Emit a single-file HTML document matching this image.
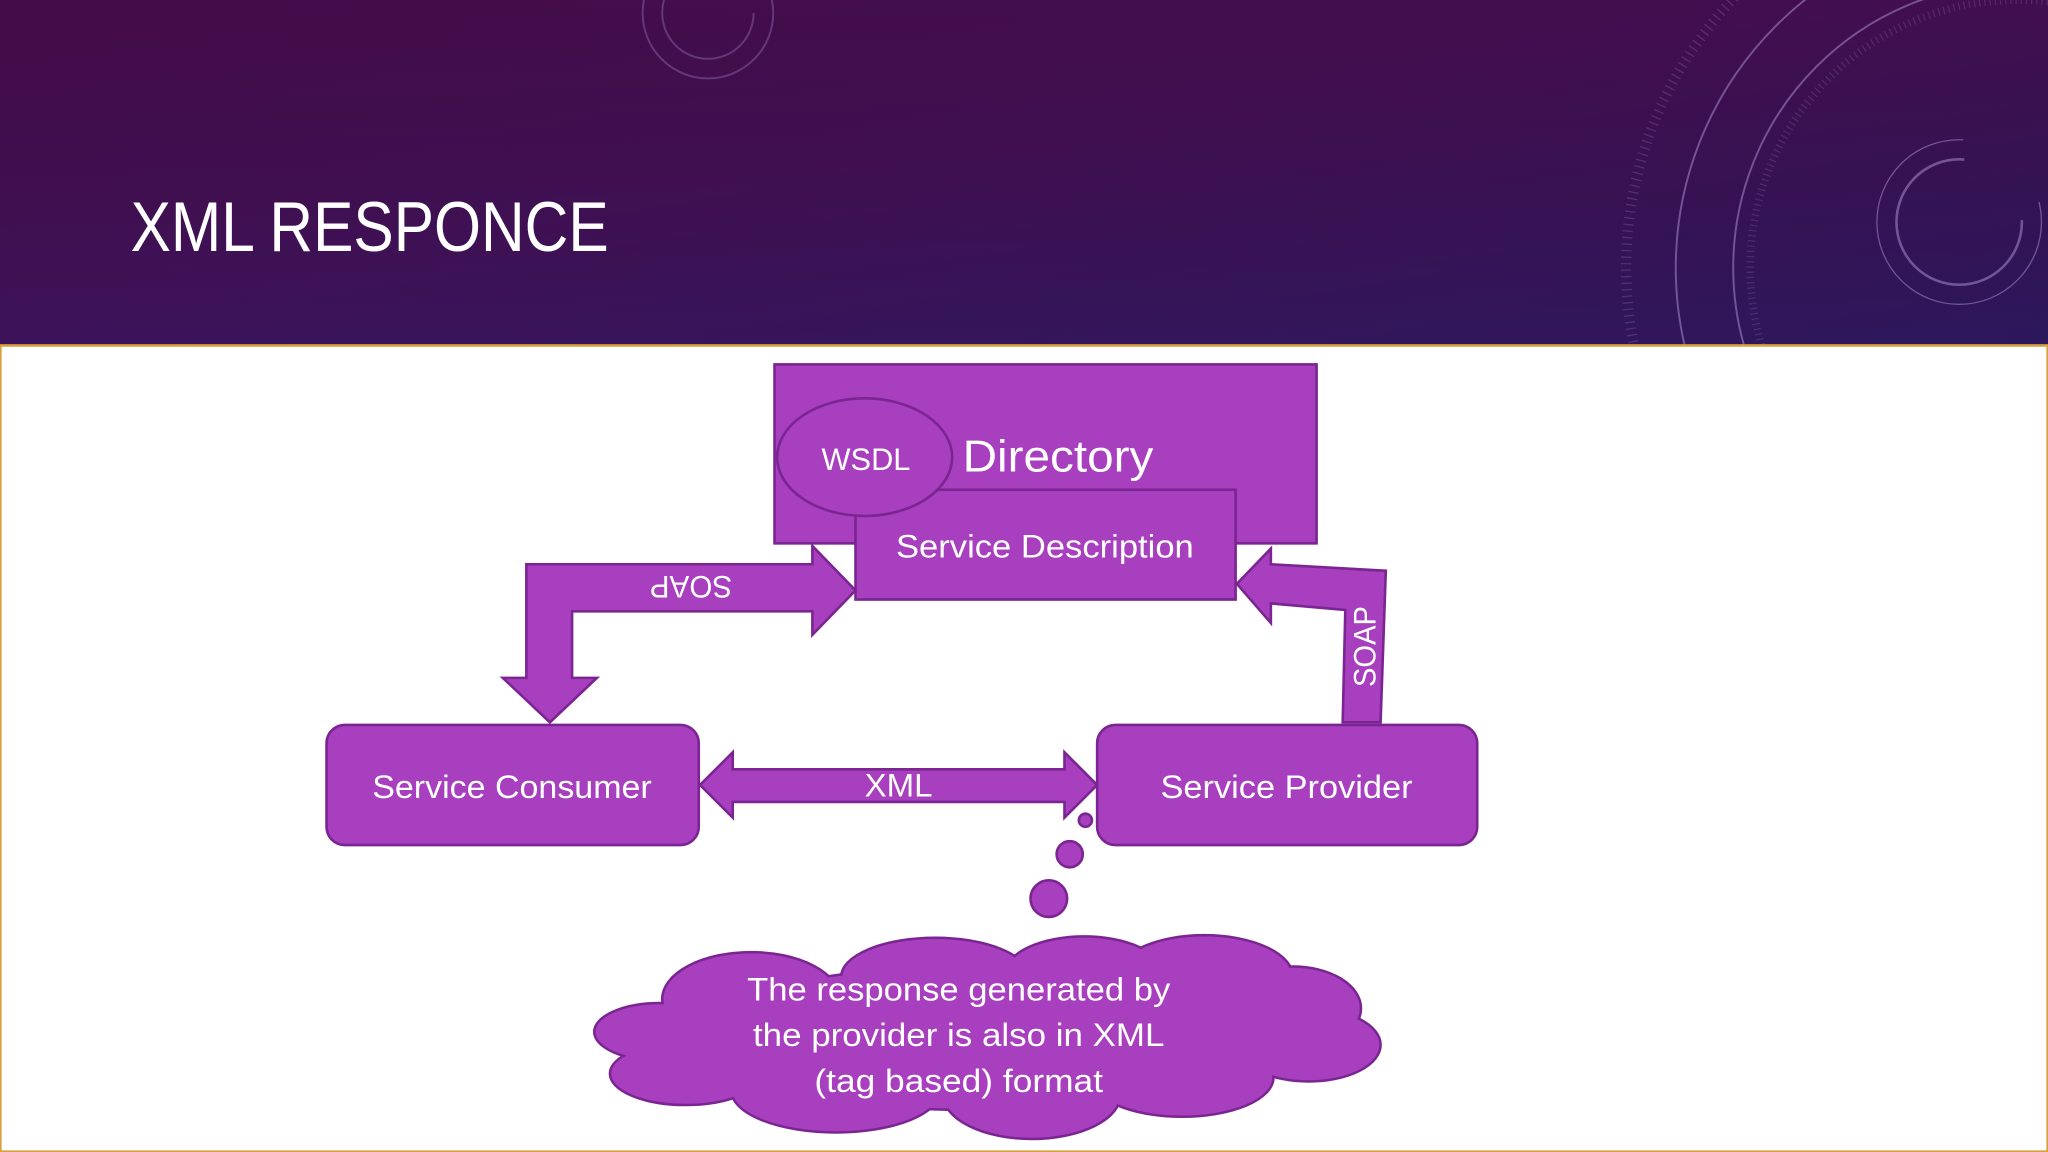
<!DOCTYPE html>
<html><head><meta charset="utf-8"><style>
html,body{margin:0;padding:0;width:2048px;height:1152px;overflow:hidden;background:#fff}
svg{display:block}
text{font-family:"Liberation Sans",sans-serif;fill:#fff}
</style></head><body>
<svg width="2048" height="1152" viewBox="0 0 1568 882" xmlns="http://www.w3.org/2000/svg">
<defs>
<linearGradient id="hg" x1="0" y1="0" x2="1" y2="1">
<stop offset="0" stop-color="#4c0d50"/><stop offset="0.45" stop-color="#4a1058"/><stop offset="1" stop-color="#33175c"/>
</linearGradient>
<linearGradient id="hg2" x1="0" y1="0" x2="0" y2="1">
<stop offset="0" stop-color="#000" stop-opacity="0.1"/><stop offset="1" stop-color="#1a1a60" stop-opacity="0.25"/>
</linearGradient>
<clipPath id="hc"><rect x="0" y="0" width="1568" height="264"/></clipPath>
</defs>
<rect x="0" y="0" width="1568" height="882" fill="#fff"/>
<rect x="0.5" y="264" width="1567" height="617.5" fill="none" stroke="#d9a040" stroke-width="1.5"/>
<rect x="0" y="0" width="1568" height="265" fill="url(#hg)"/>
<rect x="0" y="0" width="1568" height="265" fill="url(#hg2)"/>
<g fill="none" stroke="#a58ad0" stroke-opacity="0.55" clip-path="url(#hc)">
<circle cx="1545" cy="205" r="262" stroke-width="1.5"/>
<circle cx="1545" cy="205" r="218" stroke-width="1.5"/>
<circle cx="1545" cy="205" r="300" stroke-width="8" stroke-dasharray="1 4" stroke-opacity="0.25"/>
<circle cx="1545" cy="205" r="205" stroke-width="6" stroke-dasharray="1 3" stroke-opacity="0.2"/>
<circle cx="1500" cy="170" r="48" stroke-width="2" stroke-dasharray="230 70"/>
<circle cx="1500" cy="170" r="63" stroke-width="1" stroke-dasharray="300 80"/>
<circle cx="542" cy="10" r="50" stroke-width="1.5" stroke-opacity="0.35"/>
<circle cx="542" cy="10" r="35" stroke-width="1.5" stroke-opacity="0.35" stroke-dasharray="150 70"/>
</g>
<rect x="0" y="263.5" width="1568" height="2" fill="#d9a040"/>
<text x="100" y="192" font-size="54" textLength="366" lengthAdjust="spacingAndGlyphs">XML RESPONCE</text>

<g fill="#a83fbe" stroke="#7a2592" stroke-width="2">
<rect x="593" y="279" width="415" height="137"/>
<rect x="655" y="375" width="291" height="84"/>
<ellipse cx="662" cy="350" rx="67" ry="45"/>
<polygon points="403,432 622,432 622,418 655,452 622,486 622,468 438,468 438,519 457,519 421,553 385,519 403,519"/>
<polygon points="947,447 973,420 973,432 1061,437 1057,553 1028,553 1030,467 973,462 973,477"/>
<rect x="250" y="555" width="285" height="92" rx="14"/>
<rect x="840" y="555" width="291" height="92" rx="14"/>
<polygon points="536,601 561,576 561,589 815,589 815,576 840,601 815,626 815,614 561,614 561,626"/>
<circle cx="831" cy="628" r="5"/>
<circle cx="819" cy="654" r="10"/>
<circle cx="803" cy="688" r="14"/>
</g>
<g fill="#a83fbe" stroke="#7a2592" stroke-width="2">
<ellipse cx="575" cy="765" rx="68" ry="36"/>
<ellipse cx="716" cy="748" rx="72" ry="30"/>
<ellipse cx="830" cy="745" rx="60" ry="28"/>
<ellipse cx="922" cy="748" rx="68" ry="32"/>
<ellipse cx="990" cy="772" rx="52" ry="32"/>
<ellipse cx="1002" cy="800" rx="55" ry="28"/>
<ellipse cx="905" cy="825" rx="70" ry="30"/>
<ellipse cx="790" cy="838" rx="68" ry="34"/>
<ellipse cx="640" cy="835" rx="80" ry="32"/>
<ellipse cx="525" cy="822" rx="58" ry="24"/>
<ellipse cx="505" cy="790" rx="50" ry="22"/>
<ellipse cx="750" cy="795" rx="230" ry="55"/>
</g>
<g fill="#a83fbe" stroke="none">
<ellipse cx="575" cy="765" rx="67" ry="35"/>
<ellipse cx="716" cy="748" rx="71" ry="29"/>
<ellipse cx="830" cy="745" rx="59" ry="27"/>
<ellipse cx="922" cy="748" rx="67" ry="31"/>
<ellipse cx="990" cy="772" rx="51" ry="31"/>
<ellipse cx="1002" cy="800" rx="54" ry="27"/>
<ellipse cx="905" cy="825" rx="69" ry="29"/>
<ellipse cx="790" cy="838" rx="67" ry="33"/>
<ellipse cx="640" cy="835" rx="79" ry="31"/>
<ellipse cx="525" cy="822" rx="57" ry="23"/>
<ellipse cx="505" cy="790" rx="49" ry="21"/>
<ellipse cx="750" cy="795" rx="229" ry="54"/>
</g>

<text x="663" y="360" font-size="24" text-anchor="middle" textLength="68" lengthAdjust="spacingAndGlyphs">WSDL</text>
<text x="737" y="361" font-size="34" textLength="146" lengthAdjust="spacingAndGlyphs">Directory</text>
<text x="800" y="427" font-size="25" text-anchor="middle" textLength="228" lengthAdjust="spacingAndGlyphs">Service Description</text>
<text x="0" y="0" font-size="24" text-anchor="middle" textLength="63" lengthAdjust="spacingAndGlyphs" transform="translate(529,441) rotate(180)">SOAP</text>
<text x="0" y="0" font-size="24" text-anchor="middle" textLength="62" lengthAdjust="spacingAndGlyphs" transform="translate(1053,495) rotate(-90)">SOAP</text>
<text x="392" y="611" font-size="25" text-anchor="middle" textLength="214" lengthAdjust="spacingAndGlyphs">Service Consumer</text>
<text x="985" y="611" font-size="25" text-anchor="middle" textLength="193" lengthAdjust="spacingAndGlyphs">Service Provider</text>
<text x="688" y="610" font-size="25" text-anchor="middle" textLength="52" lengthAdjust="spacingAndGlyphs">XML</text>
<text x="734" y="766" font-size="25" text-anchor="middle" textLength="324" lengthAdjust="spacingAndGlyphs">The response generated by</text>
<text x="734" y="801" font-size="25" text-anchor="middle" textLength="315" lengthAdjust="spacingAndGlyphs">the provider is also in XML</text>
<text x="734" y="836" font-size="25" text-anchor="middle" textLength="221" lengthAdjust="spacingAndGlyphs">(tag based) format</text>
</svg>
</body></html>
